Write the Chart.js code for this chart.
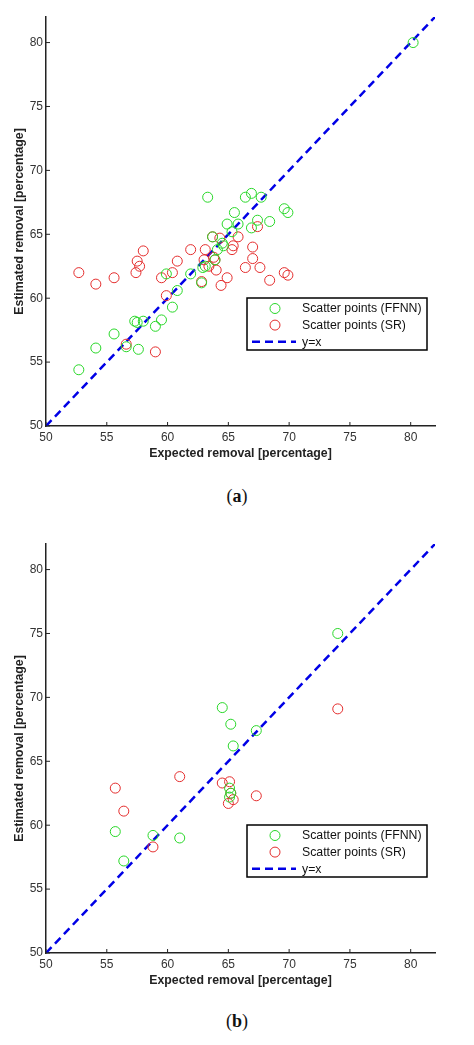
<!DOCTYPE html>
<html>
<head>
<meta charset="utf-8">
<script src="https://cdn.jsdelivr.net/npm/chart.js@4.4.0/dist/chart.umd.min.js"></script>
<style>
body { margin: 0; background: #fff; width: 474px; height: 1045px; position: relative; overflow: hidden; }
.wrap { position: absolute; left: 0; width: 474px; height: 470px; }
.cap { position: absolute; left: 0; width: 474px; text-align: center; font-family: "Liberation Serif", serif; font-size: 18px; color: #111; }
</style>
</head>
<body>
<div class="wrap" style="top:0"><canvas id="chartA"></canvas></div>
<div class="cap" style="top:486px">(<b>a</b>)</div>
<div class="wrap" style="top:527px"><canvas id="chartB"></canvas></div>
<div class="cap" style="top:1011px">(<b>b</b>)</div>
<script>
// tick values on both axes
const xTicks = [50, 55, 60, 65, 70, 75, 80];
const yTicks = [50, 55, 60, 65, 70, 75, 80];

// (a) scatter points, FFNN
const ffnnAX = [80.2,52.7,54.1,55.6,56.6,57.3,57.5,58.0,57.6,59.0,59.5,60.4,60.8,59.9,61.9,62.9,62.8,63.3,66.4,66.9,67.7,69.6,69.9,65.5,64.9,65.8,67.4,66.9,68.4,65.3,64.5,64.6,64.1,63.9,63.1,63.7];
const ffnnAY = [80.0,54.4,56.1,57.2,56.2,58.2,58.1,58.2,56.0,57.8,58.3,59.3,60.6,61.9,61.9,62.4,61.2,67.9,67.9,68.2,67.9,67.0,66.7,66.7,65.8,65.8,66.1,65.5,66.0,65.2,64.3,64.1,63.8,63.0,62.5,64.8];
// (a) scatter points, SR
const srAX = [52.7,54.1,55.6,58.0,57.5,57.7,57.4,59.5,60.4,60.8,61.9,59.9,56.6,59.0,62.8,67.4,65.8,65.4,65.3,67.0,64.3,63.1,63.0,63.8,67.0,63.4,64.0,66.4,67.6,64.9,64.4,68.4,69.6,69.9,63.7,63.9];
const srAY = [62.0,61.1,61.6,63.7,62.9,62.5,62.0,61.6,62.0,62.9,63.8,60.2,56.4,55.8,61.3,65.6,64.8,64.1,63.8,64.0,64.7,63.8,63.0,63.2,63.1,62.5,62.2,62.4,62.4,61.6,61.0,61.4,62.0,61.8,64.8,63.0];

// (b) scatter points
const ffnnBX = [74.0,64.5,65.2,65.4,67.3,55.7,56.4,58.8,61.0,65.1,65.2,65.1];
const ffnnBY = [75.0,69.2,67.9,66.2,67.4,59.5,57.2,59.2,59.0,62.9,62.5,62.2];
const srBX = [74.0,55.7,56.4,58.8,61.0,64.5,65.1,65.2,65.4,65.0,67.3];
const srBY = [69.1,62.9,61.1,58.3,63.8,63.3,63.4,62.5,62.0,61.7,62.3];

// y = x reference line ends
const lineX = [50, 82];

Chart.defaults.font.family = '"Liberation Sans", Arial, sans-serif';

const green = 'rgb(40,215,40)';
const red = 'rgb(228,45,45)';
const blue = '#0000e6';

// MATLAB style ticks pointing into the plot
const innerTicks = {
    id: 'innerTicks',
    afterDraw(chart) {
        const { ctx, scales: { x, y } } = chart;
        ctx.save();
        ctx.strokeStyle = '#222';
        ctx.lineWidth = 1;
        ctx.beginPath();
        x.ticks.forEach(t => {
            const px = x.getPixelForValue(t.value);
            ctx.moveTo(px, x.top);
            ctx.lineTo(px, x.top - 4);
        });
        y.ticks.forEach(t => {
            const py = y.getPixelForValue(t.value);
            ctx.moveTo(y.right, py);
            ctx.lineTo(y.right + 4, py);
        });
        ctx.stroke();
        ctx.restore();
    }
};

// boxed legend sitting inside the plot
const legendBox = {
    id: 'legendBox',
    afterDatasetsDraw(chart) {
        const { ctx, chartArea } = chart;
        const left = chartArea.right - 188, top = chartArea.top + 281;
        const w = 180, h = 52;
        ctx.save();
        ctx.fillStyle = '#fff';
        ctx.fillRect(left, top, w, h);
        ctx.strokeStyle = '#000';
        ctx.lineWidth = 1.5;
        ctx.strokeRect(left, top, w, h);
        ctx.font = '12.3px "Liberation Sans", Arial, sans-serif';
        ctx.textBaseline = 'middle';
        chart.data.datasets.forEach((ds, i) => {
            const yy = top + 10.5 + i * 16.6;
            if (ds.type === 'line') {
                ctx.strokeStyle = ds.borderColor;
                ctx.lineWidth = ds.borderWidth;
                ctx.setLineDash(ds.borderDash);
                ctx.beginPath();
                ctx.moveTo(left + 5, yy);
                ctx.lineTo(left + 49, yy);
                ctx.stroke();
                ctx.setLineDash([]);
            } else {
                ctx.strokeStyle = ds.borderColor;
                ctx.lineWidth = 1;
                ctx.beginPath();
                ctx.arc(left + 28, yy, 5, 0, Math.PI * 2);
                ctx.stroke();
            }
            ctx.fillStyle = '#111';
            ctx.fillText(ds.label, left + 55, yy + 0.5);
        });
        ctx.restore();
    }
};

function toPoints(xs, ys) {
    return xs.map((v, i) => ({ x: v, y: ys[i] }));
}

function makeChart(canvasId, fx, fy, sx, sy) {
    const ctx = document.getElementById(canvasId).getContext('2d');
    new Chart(ctx, {
        type: 'scatter',
        data: {
            datasets: [
                {
                    label: 'Scatter points (FFNN)',
                    data: toPoints(fx, fy),
                    borderColor: green,
                    backgroundColor: 'rgba(0,0,0,0)',
                    pointRadius: 5,
                    borderWidth: 1
                },
                {
                    label: 'Scatter points (SR)',
                    data: toPoints(sx, sy),
                    borderColor: red,
                    backgroundColor: 'rgba(0,0,0,0)',
                    pointRadius: 5,
                    borderWidth: 1
                },
                {
                    type: 'line',
                    label: 'y=x',
                    data: toPoints(lineX, lineX),
                    borderColor: blue,
                    borderWidth: 2.5,
                    borderDash: [8, 5],
                    pointRadius: 0,
                    fill: false
                }
            ]
        },
        options: {
            responsive: true,
            maintainAspectRatio: false,
            animation: false,
            layout: { padding: { top: 17, right: 39, left: 0, bottom: 0 } },
            plugins: { legend: { display: false }, tooltip: { enabled: false } },
            scales: {
                x: {
                    type: 'linear',
                    min: 50,
                    max: 82,
                    afterBuildTicks: s => { s.ticks = xTicks.map(v => ({ value: v })); },
                    afterFit: s => { s.height = 44; },
                    grid: { display: false, drawTicks: false, tickLength: 0 },
                    border: { display: true, color: '#222', width: 1.5 },
                    ticks: { padding: 4, color: '#333', font: { size: 12 } },
                    title: {
                        display: true,
                        text: 'Expected removal [percentage]',
                        color: '#222',
                        font: { size: 12.3, weight: 'bold' },
                        padding: { top: 0, bottom: 9 }
                    }
                },
                y: {
                    type: 'linear',
                    min: 50,
                    max: 82,
                    afterBuildTicks: s => { s.ticks = yTicks.map(v => ({ value: v })); },
                    afterFit: s => { s.width = 46; },
                    grid: { display: false, drawTicks: false, tickLength: 0 },
                    border: { display: true, color: '#222', width: 1.5 },
                    ticks: { padding: 3, color: '#333', font: { size: 12 } },
                    title: {
                        display: true,
                        text: 'Estimated removal [percentage]',
                        color: '#222',
                        font: { size: 12.3, weight: 'bold' },
                        padding: { top: 12, bottom: 0 }
                    }
                }
            }
        },
        plugins: [innerTicks, legendBox]
    });
}

makeChart('chartA', ffnnAX, ffnnAY, srAX, srAY);
makeChart('chartB', ffnnBX, ffnnBY, srBX, srBY);
</script>
</body>
</html>
